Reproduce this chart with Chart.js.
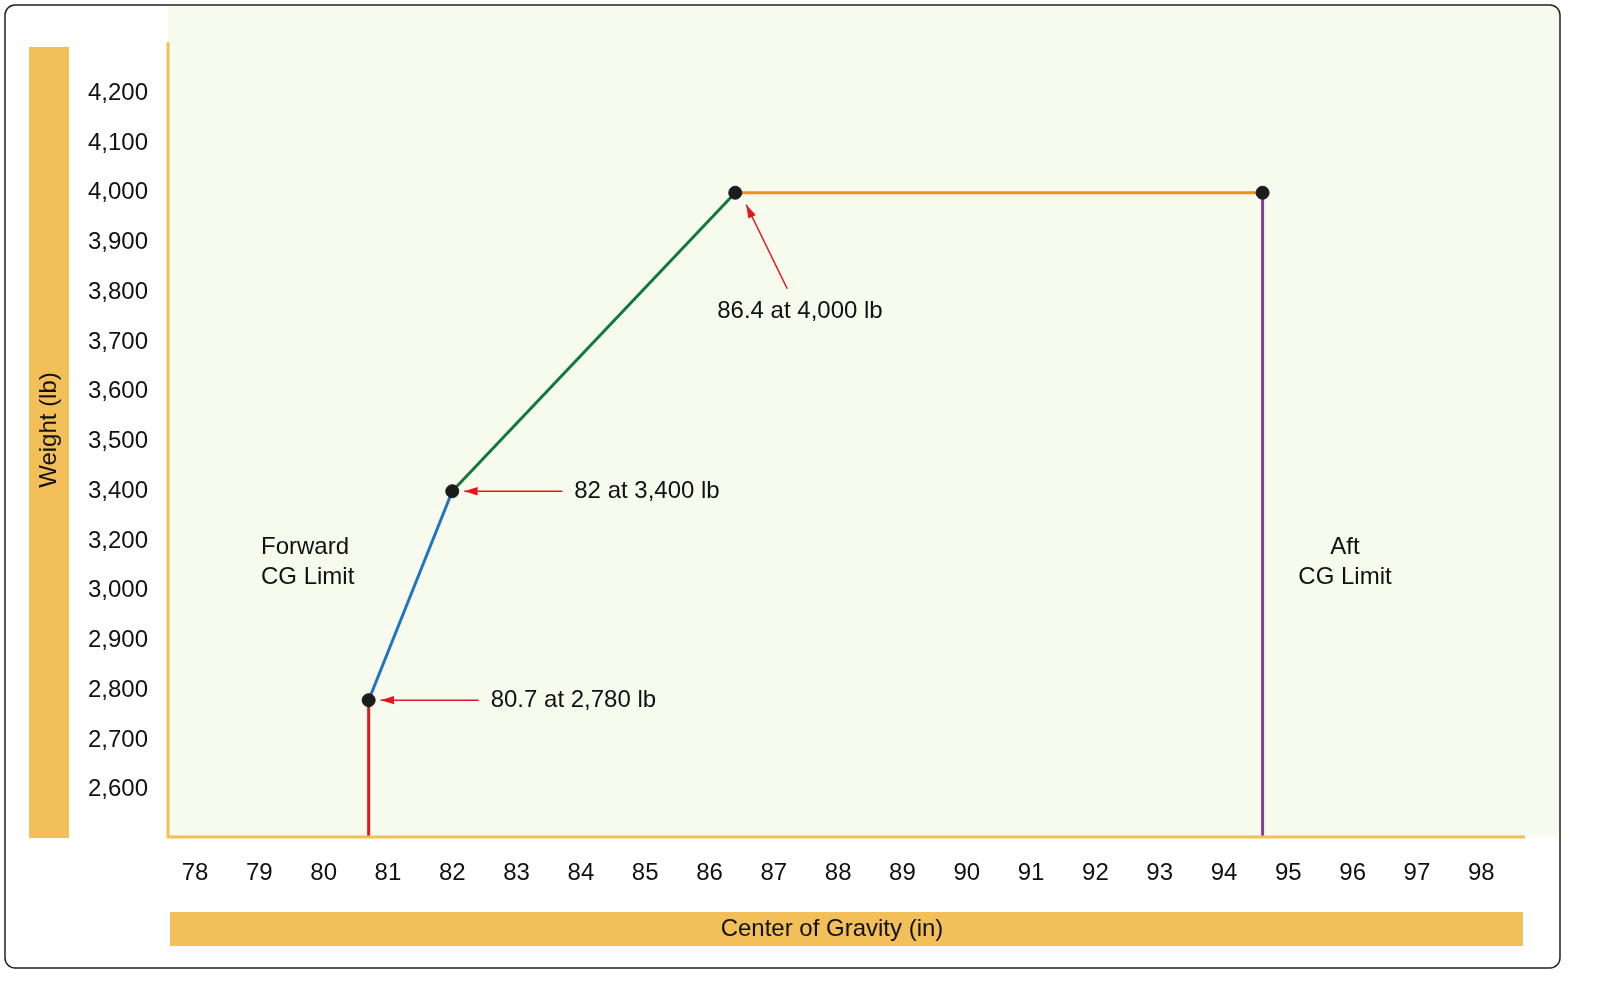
<!DOCTYPE html>
<html>
<head>
<meta charset="utf-8">
<script src="https://cdn.jsdelivr.net/npm/chart.js@4.4.0/dist/chart.umd.min.js"></script>
<style>
  html, body { margin: 0; padding: 0; background: #fff; }
  #wrap { width: 1600px; height: 997px; }
</style>
</head>
<body>
<div id="wrap"><canvas id="cg" width="1600" height="997"></canvas></div>
<script>
// --- Datos ---
const xTicks = [78, 79, 80, 81, 82, 83, 84, 85, 86, 87, 88, 89, 90, 91, 92, 93, 94, 95, 96, 97, 98];
// el eje de peso del original no es lineal: 3,100 y 3,300 no aparecen
const yTickLabels = [2600, 2700, 2800, 2900, 3000, 3200, 3400, 3500, 3600, 3700, 3800, 3900, 4000, 4100, 4200];
const envelopeCG = [80.7, 82, 86.4, 94.6];
const envelopeWeight = [2780, 3400, 4000, 4000];
const segmentColors = ['#1f74c2', '#11773c', '#ee8f22'];
const pointLabels = ['80.7 at 2,780 lb', '82 at 3,400 lb', '86.4 at 4,000 lb'];

// peso -> posición en el eje (índice del rótulo)
function yPos(w) {
    for (let i = 0; i < yTickLabels.length - 1; i++) {
        const a = yTickLabels[i], b = yTickLabels[i + 1];
        if (w <= b) return i + (w - a) / (b - a);
    }
    return yTickLabels.length - 1;
}
const yMin = -0.95, yMax = 15.03;

const pts = envelopeCG.map((x, i) => ({ x, y: yPos(envelopeWeight[i]) }));
const FONT = '"Liberation Sans", Arial, sans-serif';

const datasets = [
    { data: [{ x: envelopeCG[0], y: yMin }, pts[0]], borderColor: '#e8141c' },
    { data: [pts[0], pts[1]], borderColor: segmentColors[0] },
    { data: [pts[1], pts[2]], borderColor: segmentColors[1] },
    { data: [pts[2], pts[3]], borderColor: segmentColors[2] },
    { data: [pts[3], { x: envelopeCG[3], y: yMin }], borderColor: '#8b3a9b' },
].map(d => Object.assign(d, { borderWidth: 3, pointRadius: 0, showLine: true, clip: false, order: 2 }));
datasets.push({ data: pts, pointRadius: 6.5, pointBackgroundColor: '#1c1c1c', pointBorderColor: '#1c1c1c', showLine: false, order: 0 });

const decor = {
    id: 'decor',
    beforeDraw(chart) {
        const { ctx, chartArea: a } = chart;
        ctx.save();
        ctx.fillStyle = '#f6fbee';
        ctx.fillRect(a.left, 6, 1559 - a.left, a.bottom - 6);
        ctx.fillStyle = '#f2bf58';
        ctx.fillRect(29, 47, 40, a.bottom - 46);
        ctx.fillRect(170, 912, 1353, 34);
        ctx.strokeStyle = '#222';
        ctx.lineWidth = 1.5;
        ctx.beginPath();
        ctx.roundRect(5, 5, 1555, 963, 10);
        ctx.stroke();
        ctx.fillStyle = '#111';
        ctx.font = '24px ' + FONT;
        ctx.textAlign = 'center';
        ctx.textBaseline = 'middle';
        ctx.fillText('Center of Gravity (in)', 832, 929);
        ctx.translate(49, 430);
        ctx.rotate(-Math.PI / 2);
        ctx.fillText('Weight (lb)', 0, 0);
        ctx.restore();
    },
    afterDatasetsDraw(chart) {
        const { ctx, scales: { x, y }, chartArea: a } = chart;
        ctx.save();
        ctx.strokeStyle = '#f2bf58';
        ctx.lineWidth = 3;
        ctx.beginPath();
        ctx.moveTo(a.left, 42); ctx.lineTo(a.left, a.bottom); ctx.lineTo(a.right, a.bottom);
        ctx.stroke();

        ctx.font = '24px ' + FONT;
        ctx.fillStyle = '#111';
        ctx.textBaseline = 'middle';
        const arrow = (x1, y1, x2, y2) => {
            ctx.strokeStyle = '#e8141c';
            ctx.fillStyle = '#e8141c';
            ctx.lineWidth = 1.5;
            ctx.beginPath(); ctx.moveTo(x1, y1); ctx.lineTo(x2, y2); ctx.stroke();
            const ang = Math.atan2(y2 - y1, x2 - x1);
            ctx.beginPath();
            ctx.moveTo(x2, y2);
            ctx.lineTo(x2 - 14 * Math.cos(ang - 0.3), y2 - 14 * Math.sin(ang - 0.3));
            ctx.lineTo(x2 - 14 * Math.cos(ang + 0.3), y2 - 14 * Math.sin(ang + 0.3));
            ctx.closePath(); ctx.fill();
            ctx.fillStyle = '#111';
        };
        const p = pts.map(q => ({ x: x.getPixelForValue(q.x), y: y.getPixelForValue(q.y) }));
        arrow(p[0].x + 110, p[0].y, p[0].x + 12, p[0].y);
        ctx.textAlign = 'left';
        ctx.fillText(pointLabels[0], p[0].x + 122, p[0].y);
        arrow(p[1].x + 110, p[1].y, p[1].x + 12, p[1].y);
        ctx.fillText(pointLabels[1], p[1].x + 122, p[1].y);
        arrow(p[2].x + 52, p[2].y + 96, p[2].x + 11, p[2].y + 12);
        ctx.fillText(pointLabels[2], p[2].x - 18, p[2].y + 119);

        ctx.fillText('Forward', 261, 547);
        ctx.fillText('CG Limit', 261, 577);
        ctx.textAlign = 'center';
        ctx.fillText('Aft', 1345, 547);
        ctx.fillText('CG Limit', 1345, 577);
        ctx.restore();
    }
};

new Chart(document.getElementById('cg'), {
    type: 'scatter',
    data: { datasets },
    options: {
        responsive: false,
        animation: false,
        layout: { padding: { top: 42, right: 75, left: 0, bottom: 0 } },
        plugins: { legend: { display: false }, tooltip: { enabled: false } },
        scales: {
            x: {
                type: 'linear', min: 77.58, max: 98.68,
                afterFit: s => { s.height = 160; },
                afterBuildTicks: s => { s.ticks = xTicks.map(v => ({ value: v })); },
                grid: { display: false }, border: { display: false },
                ticks: { color: '#111', font: { size: 24, family: FONT }, padding: 14, maxRotation: 0, autoSkip: false }
            },
            y: {
                type: 'linear', min: yMin, max: yMax,
                afterFit: s => { s.width = 168; },
                afterBuildTicks: s => { s.ticks = yTickLabels.map((v, i) => ({ value: i })); },
                grid: { display: false }, border: { display: false },
                ticks: {
                    color: '#111', font: { size: 24, family: FONT }, padding: 12, autoSkip: false,
                    callback: v => yTickLabels[v] !== undefined ? yTickLabels[v].toLocaleString('en-US') : ''
                }
            }
        }
    },
    plugins: [decor]
});
</script>
</body>
</html>
